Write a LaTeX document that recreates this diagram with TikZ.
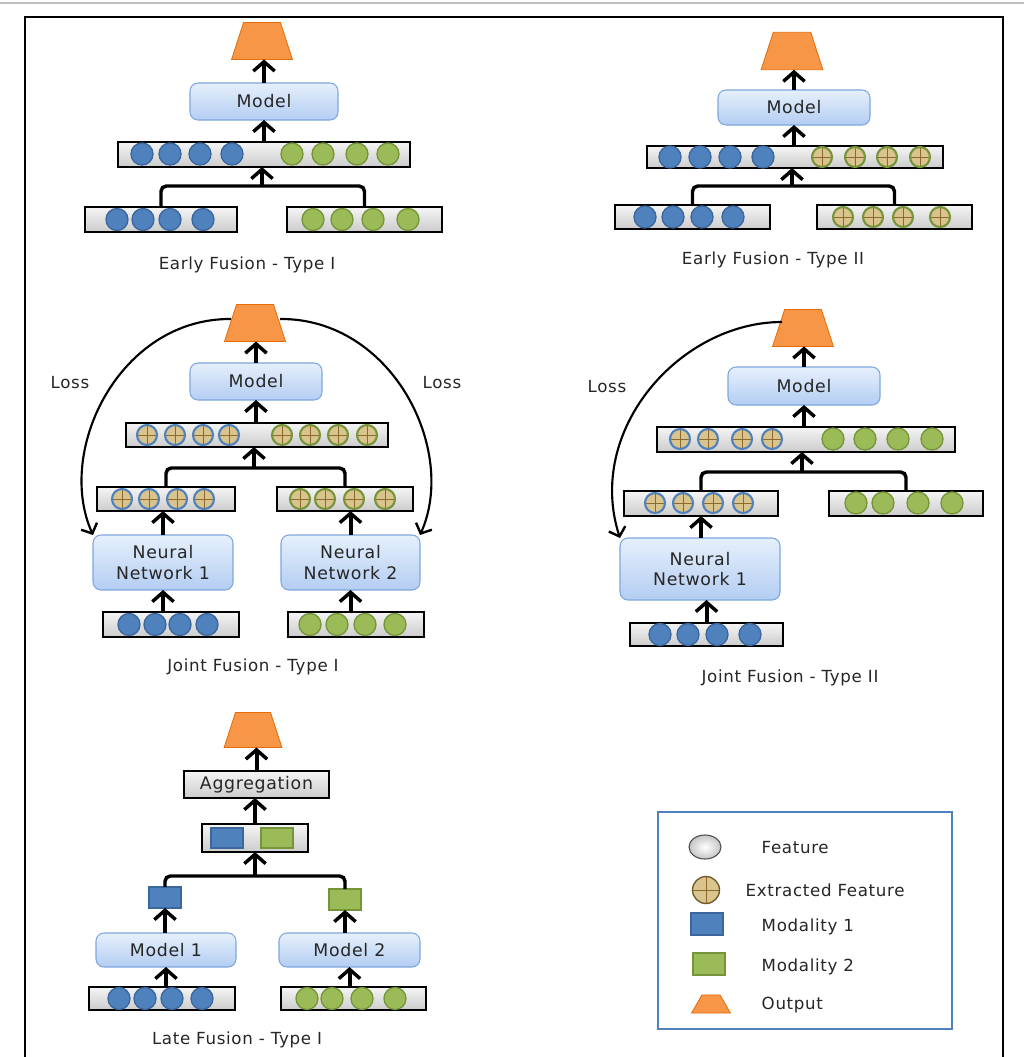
\documentclass[tikz,border=0pt]{standalone}
\usepackage{fontspec}
\setmainfont{DejaVu Sans}[LetterSpace=4]
\usetikzlibrary{shapes.geometric,arrows.meta}
\definecolor{bfill}{HTML}{4F81BD}\definecolor{bline}{HTML}{3B679E}
\definecolor{gfill}{HTML}{9BBB59}\definecolor{gline}{HTML}{76953A}
\definecolor{ofill}{HTML}{F79646}\definecolor{oline}{HTML}{E46C0A}
\definecolor{mtop}{HTML}{E6F0FC}\definecolor{mbot}{HTML}{B3CDF2}\definecolor{mline}{HTML}{7FA7DE}
\definecolor{tan}{HTML}{D9C48E}\definecolor{tanl}{HTML}{8C6A2E}
\newcommand\mkbox[7]{\node[#6, minimum width={(#4-#2)*0.75pt}, minimum height={(#5-#3)*0.75pt}] (#1) at ({(#2+#4)/2},{(#3+#5)/2}) {#7};}
\newcommand\mktrap[5]{\node[outp, minimum width=#4*0.75pt, minimum height=#5*0.75pt] (#1) at (#2,#3) {};}
\tikzset{
 bar/.style={draw=black, line width=1pt, top color=gray!8, bottom color=gray!40, inner sep=0pt, outer sep=0pt},
 model/.style={draw=mline, line width=0.8pt, rounded corners=6pt, top color=mtop, bottom color=mbot, inner sep=0pt, outer sep=0pt, align=center, font=\fontsize{13}{15.5}\selectfont, text=black!85},
 outp/.style={trapezium, trapezium angle=72, fill=ofill, draw=oline, line width=0.6pt, inner sep=0.5pt, outer sep=0pt},
 feat/.style={circle, inner sep=0pt, outer sep=0pt, minimum size=22*0.75pt, line width=1pt},
 bluef/.style={feat, fill=bfill, draw=bline},
 greenf/.style={feat, fill=gfill, draw=gline},
 xf/.style={feat, minimum size=20*0.75pt, fill=tan, line width=1.6pt,
   path picture={\draw[tanl, line width=0.5pt] (path picture bounding box.north) -- (path picture bounding box.south) (path picture bounding box.west) -- (path picture bounding box.east);}},
 xbf/.style={xf, draw=bfill},
 xgf/.style={xf, draw=gline},
 sqb/.style={fill=bfill, draw=bline, line width=1.2pt, inner sep=0pt, outer sep=0pt},
 sqg/.style={fill=gfill, draw=gline, line width=1.2pt, inner sep=0pt, outer sep=0pt},
 arr/.style={line width=3pt, -{Straight Barb[length=7pt,width=16pt,line width=2.6pt]}},
 branch/.style={line width=2.6pt, rounded corners=4pt},
 loss/.style={line width=1.6pt, -{Straight Barb[length=6pt,width=13pt,line width=1.8pt]}},
 lbl/.style={font=\fontsize{12.5}{14}\selectfont, text=black!85},
}
\begin{document}
\begin{tikzpicture}[x=0.75pt,y=-0.75pt]
\useasboundingbox (0,0) rectangle (1024,1057);
\fill[white] (0,0) rectangle (1024,1057);
\draw[gray!50, line width=1pt] (0,3) -- (1024,3);
\draw[black, line width=0.8pt] (25,1060) -- (25,17) -- (1003,17) -- (1003,1060);

% ---------- Early Fusion I
\mktrap{efo}{262}{41}{61}{36}
\mkbox{efm}{190}{83}{338}{120}{model}{Model}
\mkbox{efb}{118}{142}{410}{167}{bar}{}
\foreach \x [count=\i] in {142,170,200,232} \node[bluef] (efb-b\i) at (\x,154) {};
\foreach \x [count=\i] in {292,323,357,388} \node[greenf] (efb-g\i) at (\x,154) {};
\mkbox{efl}{85}{207}{237}{232}{bar}{}
\foreach \x [count=\i] in {117,143,170,203} \node[bluef] (efl-\i) at (\x,219.5) {};
\mkbox{efr}{287}{207}{442}{232}{bar}{}
\foreach \x [count=\i] in {313,342,373,408} \node[greenf] (efr-\i) at (\x,219.5) {};
\coordinate (efj) at (262,186);
\draw[branch] (efl.north) |- (efj) -| (efr.north);
\draw[arr] (efj) -- (efj |- efb.south);
\draw[arr] (efb.north -| efm.south) -- (efm.south);
\draw[arr] (efm.north) -- (efm.north |- efo.south);
\node[lbl] (eft) at (247,265) {Early Fusion - Type I};

% ---------- Early Fusion II
\mktrap{e2o}{792}{51}{62}{33}
\mkbox{e2m}{718}{90}{870}{125}{model}{Model}
\mkbox{e2b}{647}{146}{943}{168}{bar}{}
\foreach \x [count=\i] in {670,700,730,763} \node[bluef] (e2b-b\i) at (\x,157) {};
\foreach \x [count=\i] in {822,855,887,920} \node[xgf] (e2b-g\i) at (\x,157) {};
\mkbox{e2l}{615}{205}{770}{229}{bar}{}
\foreach \x [count=\i] in {645,673,702,733} \node[bluef] (e2l-\i) at (\x,217) {};
\mkbox{e2r}{817}{205}{972}{229}{bar}{}
\foreach \x [count=\i] in {843,873,903,940} \node[xgf] (e2r-\i) at (\x,217) {};
\coordinate (e2j) at (792,186);
\draw[branch] (e2l.north) |- (e2j) -| (e2r.north);
\draw[arr] (e2j) -- (e2j |- e2b.south);
\draw[arr] (e2b.north -| e2m.south) -- (e2m.south);
\draw[arr] (e2m.north) -- (e2m.north |- e2o.south);
\node[lbl] (e2t) at (773,260) {Early Fusion - Type II};

% ---------- Joint Fusion I
\mktrap{j1o}{255}{323}{56}{37}
\mkbox{j1m}{190}{363}{322}{400}{model}{Model}
\mkbox{j1b}{126}{423}{388}{447}{bar}{}
\foreach \x [count=\i] in {147,175,203,229} \node[xbf] (j1b-b\i) at (\x,435) {};
\foreach \x [count=\i] in {282,310,338,367} \node[xgf] (j1b-g\i) at (\x,435) {};
\mkbox{j1l}{97}{487}{235}{511}{bar}{}
\foreach \x [count=\i] in {122,149,177,204} \node[xbf] (j1l-\i) at (\x,499) {};
\mkbox{j1r}{277}{487}{413}{511}{bar}{}
\foreach \x [count=\i] in {300,325,354,385} \node[xgf] (j1r-\i) at (\x,499) {};
\coordinate (j1j) at (254,468);
\draw[branch] (j1l.north) |- (j1j) -| (j1r.north);
\draw[arr] (j1j) -- (j1j |- j1b.south);
\draw[arr] (j1b.north -| j1m.south) -- (j1m.south);
\draw[arr] (j1m.north) -- (j1m.north |- j1o.south);
\mkbox{j1n1}{93}{535}{233}{590}{model}{Neural\\Network 1}
\mkbox{j1n2}{281}{535}{420}{590}{model}{Neural\\Network 2}
\draw[arr] (j1n1.north) -- (j1n1.north |- j1l.south);
\draw[arr] (j1n2.north) -- (j1n2.north |- j1r.south);
\mkbox{j1bl}{103}{612}{239}{637}{bar}{}
\foreach \x [count=\i] in {129,155,180,207} \node[bluef] (j1bl-\i) at (\x,624.5) {};
\mkbox{j1br}{288}{612}{424}{637}{bar}{}
\foreach \x [count=\i] in {310,337,365,395} \node[greenf] (j1br-\i) at (\x,624.5) {};
\draw[arr] (j1n1.south |- j1bl.north) -- (j1n1.south);
\draw[arr] (j1n2.south |- j1br.north) -- (j1n2.south);
\coordinate (j1s1) at (231,319);
\coordinate (j1s2) at (280,319);
\draw[loss] (j1s1) .. controls (120,318) and (55,450) .. (j1n1.north west);
\draw[loss] (j1s2) .. controls (392,318) and (458,450) .. (j1n2.north east);
\node[lbl] (j1ll) at (70,383) {Loss};
\node[lbl] (j1lr) at (442,383) {Loss};
\node[lbl] (j1t) at (253,667) {Joint Fusion - Type I};

% ---------- Joint Fusion II
\mktrap{j2o}{803}{328}{61}{34}
\mkbox{j2m}{728}{367}{880}{405}{model}{Model}
\mkbox{j2b}{657}{427}{955}{452}{bar}{}
\foreach \x [count=\i] in {680,708,742,772} \node[xbf] (j2b-b\i) at (\x,439) {};
\foreach \x [count=\i] in {833,865,898,932} \node[greenf] (j2b-g\i) at (\x,439) {};
\mkbox{j2l}{624}{491}{778}{516}{bar}{}
\foreach \x [count=\i] in {655,683,713,743} \node[xbf] (j2l-\i) at (\x,503) {};
\mkbox{j2r}{829}{491}{983}{516}{bar}{}
\foreach \x [count=\i] in {856,883,918,952} \node[greenf] (j2r-\i) at (\x,503) {};
\coordinate (j2j) at (802,472);
\draw[branch] (j2l.north) |- (j2j) -| (j2r.north);
\draw[arr] (j2j) -- (j2j |- j2b.south);
\draw[arr] (j2b.north -| j2m.south) -- (j2m.south);
\draw[arr] (j2m.north) -- (j2m.north |- j2o.south);
\mkbox{j2n}{620}{538}{780}{600}{model}{Neural\\Network 1}
\draw[arr] (j2l.south |- j2n.north) -- (j2l.south);
\mkbox{j2bb}{630}{623}{783}{646}{bar}{}
\foreach \x [count=\i] in {660,688,717,750} \node[bluef] (j2bb-\i) at (\x,634.5) {};
\draw[arr] (j2bb.north) -- (j2bb.north |- j2n.south);
\coordinate (j2s) at (782,322);
\draw[loss] (j2s) .. controls (680,322) and (585,430) .. (j2n.north west);
\node[lbl] (j2ll) at (607,387) {Loss};
\node[lbl] (j2t) at (790,678) {Joint Fusion - Type II};

% ---------- Late Fusion
\mktrap{lo}{253}{730}{58}{33}
\mkbox{la}{184}{771}{329}{798}{bar,font=\fontsize{13}{15}\selectfont,text=black!85}{Aggregation}
\mkbox{lb}{202}{824}{308}{852}{bar}{}
\mkbox{lbs1}{211}{828}{243}{848}{sqb}{}
\mkbox{lbs2}{261}{828}{293}{848}{sqg}{}
\coordinate (lj) at (255,876);
\mkbox{ls1}{149}{887}{181}{908}{sqb}{}
\mkbox{ls2}{329}{889}{361}{910}{sqg}{}
\draw[branch] (ls1.north) |- (lj) -| (ls2.north);
\draw[arr] (lj) -- (lj |- lb.south);
\draw[arr] (lb.north) -- (lb.north |- la.south);
\draw[arr] (la.north) -- (la.north |- lo.south);
\mkbox{lm1}{96}{933}{236}{967}{model}{Model 1}
\mkbox{lm2}{279}{933}{420}{967}{model}{Model 2}
\draw[arr] (ls1.south |- lm1.north) -- (ls1.south);
\draw[arr] (ls2.south |- lm2.north) -- (ls2.south);
\mkbox{lbl}{89}{987}{235}{1010}{bar}{}
\foreach \x [count=\i] in {119,145,172,202} \node[bluef] (lbl-\i) at (\x,998.5) {};
\mkbox{lbr}{281}{987}{426}{1010}{bar}{}
\foreach \x [count=\i] in {307,332,362,395} \node[greenf] (lbr-\i) at (\x,998.5) {};
\draw[arr] (lm1.south |- lbl.north) -- (lm1.south);
\draw[arr] (lm2.south |- lbr.north) -- (lm2.south);
\node[lbl] (lt) at (237,1040) {Late Fusion - Type I};

% ---------- Legend
\mkbox{leg}{658}{812}{952}{1029}{draw=bfill, line width=1.5pt, inner sep=0pt}{}
\node[ellipse, minimum width=32*0.75pt, minimum height=24*0.75pt, draw=black!70, line width=0.8pt, inner color=white, outer color=gray!45] (le1) at (705,847) {};
\node[xf, minimum size=27*0.75pt, draw=tanl!80!black, line width=1pt] (le2) at (706,890) {};
\mkbox{le3}{691}{913}{723}{935}{sqb}{}
\mkbox{le4}{693}{953}{725}{975}{sqg}{}
\node[outp, minimum width=39*0.75pt, minimum height=18*0.75pt, trapezium angle=60] (le5) at (711,1004) {};
\node[lbl, anchor=west] (lt1) at (757,848) {Feature};
\node[lbl, anchor=west] (lt2) at (741,890) {Extracted Feature};
\node[lbl, anchor=west] (lt3) at (757,927) {Modality 1};
\node[lbl, anchor=west] (lt4) at (757,967) {Modality 2};
\node[lbl, anchor=west] (lt5) at (757,1005) {Output};
\end{tikzpicture}
\end{document}
